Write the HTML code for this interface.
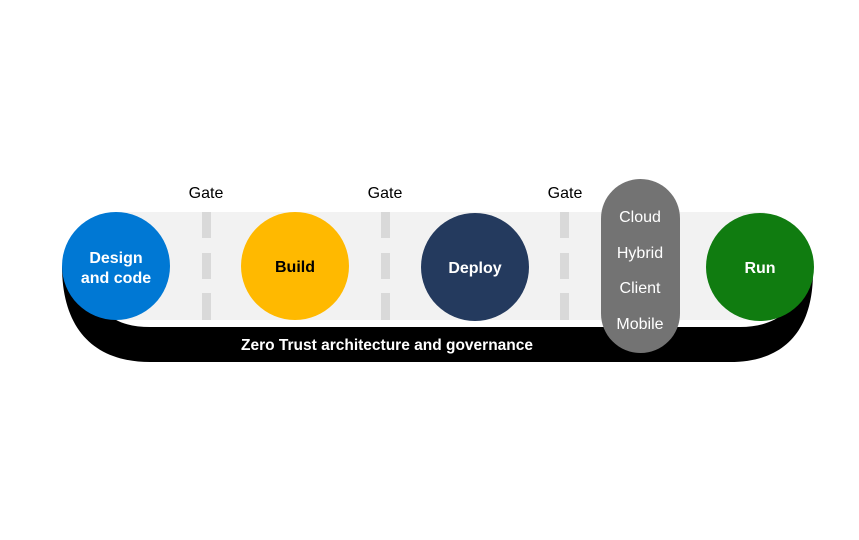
<!DOCTYPE html>
<html><head><meta charset="utf-8"><style>
html,body{margin:0;padding:0;background:#fff;}
svg{display:block;}
text{font-family:"Liberation Sans",sans-serif;}
</style></head><body>
<svg width="859" height="540" viewBox="0 0 859 540" xmlns="http://www.w3.org/2000/svg">
<rect width="859" height="540" fill="#fff"/>
<rect x="115" y="212" width="650" height="108" fill="#f2f2f2"/>
<path d="M62,266 C62,330 95,362 150,362 L730,362 C785,362 813,330 813,272 L800,290 C790,315 770,327 740,327 L150,327 C130,327 115,322 105,312 Z" fill="#000"/>
<g fill="#d9d9d9">
<rect x="202" y="212" width="9" height="26"/><rect x="202" y="253" width="9" height="26"/><rect x="202" y="293" width="9" height="27"/>
<rect x="381" y="212" width="9" height="26"/><rect x="381" y="253" width="9" height="26"/><rect x="381" y="293" width="9" height="27"/>
<rect x="560" y="212" width="9" height="26"/><rect x="560" y="253" width="9" height="26"/><rect x="560" y="293" width="9" height="27"/>
</g>
<g font-size="16" fill="#000" text-anchor="middle">
<text x="206" y="198">Gate</text><text x="385" y="198">Gate</text><text x="565" y="198">Gate</text>
</g>
<circle cx="116" cy="266" r="54" fill="#0078d4"/>
<circle cx="295" cy="266" r="54" fill="#ffb900"/>
<circle cx="475" cy="267" r="54" fill="#243a5e"/>
<circle cx="760" cy="267" r="54" fill="#107c10"/>
<rect x="601" y="179" width="79" height="174" rx="39.5" fill="#737373"/>
<g font-size="16" font-weight="bold" text-anchor="middle">
<text x="116" y="263" fill="#fff">Design</text>
<text x="116" y="283" fill="#fff">and code</text>
<text x="295" y="272" fill="#000">Build</text>
<text x="475" y="273" fill="#fff">Deploy</text>
<text x="760" y="273" fill="#fff">Run</text>
<text x="387" y="350" font-size="15.5" fill="#fff">Zero Trust architecture and governance</text>
</g>
<g font-size="16" fill="#fff" text-anchor="middle">
<text x="640" y="222">Cloud</text><text x="640" y="258">Hybrid</text><text x="640" y="293">Client</text><text x="640" y="329">Mobile</text>
</g>
</svg>
</body></html>
